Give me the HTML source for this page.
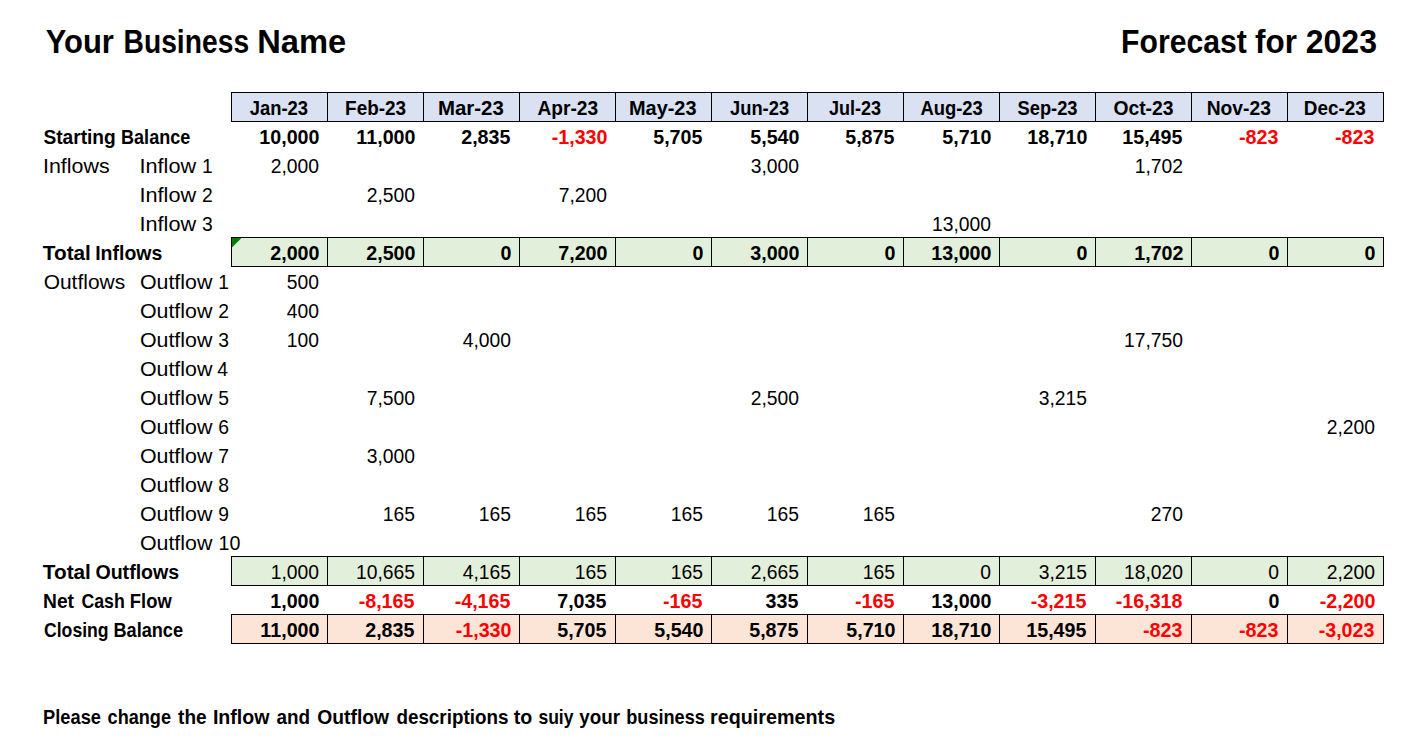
<!DOCTYPE html>
<html><head><meta charset="utf-8"><title>Cash Flow Forecast</title>
<style>
html,body{margin:0;padding:0;background:#fff;}
body{width:1409px;height:749px;overflow:hidden;}
svg{display:block;}
text{font-family:"Liberation Sans",sans-serif;}
</style></head><body>
<svg width="1409" height="749" viewBox="0 0 1409 749">
<g shape-rendering="crispEdges">
<rect x="231" y="92" width="1152" height="29" fill="#D9E1F2"/>
<rect x="231" y="92" width="1153" height="1" fill="#000"/>
<rect x="231" y="121" width="1153" height="1" fill="#000"/>
<rect x="231" y="92" width="1" height="30" fill="#000"/>
<rect x="327" y="92" width="1" height="30" fill="#000"/>
<rect x="423" y="92" width="1" height="30" fill="#000"/>
<rect x="519" y="92" width="1" height="30" fill="#000"/>
<rect x="615" y="92" width="1" height="30" fill="#000"/>
<rect x="711" y="92" width="1" height="30" fill="#000"/>
<rect x="807" y="92" width="1" height="30" fill="#000"/>
<rect x="903" y="92" width="1" height="30" fill="#000"/>
<rect x="999" y="92" width="1" height="30" fill="#000"/>
<rect x="1095" y="92" width="1" height="30" fill="#000"/>
<rect x="1191" y="92" width="1" height="30" fill="#000"/>
<rect x="1287" y="92" width="1" height="30" fill="#000"/>
<rect x="1383" y="92" width="1" height="30" fill="#000"/>
<rect x="231" y="237" width="1152" height="29" fill="#E2EFDA"/>
<rect x="231" y="237" width="1153" height="1" fill="#000"/>
<rect x="231" y="266" width="1153" height="1" fill="#000"/>
<rect x="231" y="237" width="1" height="30" fill="#000"/>
<rect x="327" y="237" width="1" height="30" fill="#000"/>
<rect x="423" y="237" width="1" height="30" fill="#000"/>
<rect x="519" y="237" width="1" height="30" fill="#000"/>
<rect x="615" y="237" width="1" height="30" fill="#000"/>
<rect x="711" y="237" width="1" height="30" fill="#000"/>
<rect x="807" y="237" width="1" height="30" fill="#000"/>
<rect x="903" y="237" width="1" height="30" fill="#000"/>
<rect x="999" y="237" width="1" height="30" fill="#000"/>
<rect x="1095" y="237" width="1" height="30" fill="#000"/>
<rect x="1191" y="237" width="1" height="30" fill="#000"/>
<rect x="1287" y="237" width="1" height="30" fill="#000"/>
<rect x="1383" y="237" width="1" height="30" fill="#000"/>
<rect x="231" y="556" width="1152" height="29" fill="#E2EFDA"/>
<rect x="231" y="556" width="1153" height="1" fill="#000"/>
<rect x="231" y="585" width="1153" height="1" fill="#000"/>
<rect x="231" y="556" width="1" height="30" fill="#000"/>
<rect x="327" y="556" width="1" height="30" fill="#000"/>
<rect x="423" y="556" width="1" height="30" fill="#000"/>
<rect x="519" y="556" width="1" height="30" fill="#000"/>
<rect x="615" y="556" width="1" height="30" fill="#000"/>
<rect x="711" y="556" width="1" height="30" fill="#000"/>
<rect x="807" y="556" width="1" height="30" fill="#000"/>
<rect x="903" y="556" width="1" height="30" fill="#000"/>
<rect x="999" y="556" width="1" height="30" fill="#000"/>
<rect x="1095" y="556" width="1" height="30" fill="#000"/>
<rect x="1191" y="556" width="1" height="30" fill="#000"/>
<rect x="1287" y="556" width="1" height="30" fill="#000"/>
<rect x="1383" y="556" width="1" height="30" fill="#000"/>
<rect x="231" y="614" width="1152" height="29" fill="#FCE4D6"/>
<rect x="231" y="614" width="1153" height="1" fill="#000"/>
<rect x="231" y="643" width="1153" height="1" fill="#000"/>
<rect x="231" y="614" width="1" height="30" fill="#000"/>
<rect x="327" y="614" width="1" height="30" fill="#000"/>
<rect x="423" y="614" width="1" height="30" fill="#000"/>
<rect x="519" y="614" width="1" height="30" fill="#000"/>
<rect x="615" y="614" width="1" height="30" fill="#000"/>
<rect x="711" y="614" width="1" height="30" fill="#000"/>
<rect x="807" y="614" width="1" height="30" fill="#000"/>
<rect x="903" y="614" width="1" height="30" fill="#000"/>
<rect x="999" y="614" width="1" height="30" fill="#000"/>
<rect x="1095" y="614" width="1" height="30" fill="#000"/>
<rect x="1191" y="614" width="1" height="30" fill="#000"/>
<rect x="1287" y="614" width="1" height="30" fill="#000"/>
<rect x="1383" y="614" width="1" height="30" fill="#000"/>
</g>
<path d="M232 238 L241.5 238 L232 247.5 Z" fill="#008000"/>
<g>
<text transform="translate(45.70 52.90) scale(0.9187 1)" font-size="33.7" font-weight="bold" fill="#000">Your</text>
<text transform="translate(123.52 52.90) scale(0.8385 1)" font-size="33.7" font-weight="bold" fill="#000">Business</text>
<text transform="translate(257.26 52.90) scale(0.9695 1)" font-size="33.7" font-weight="bold" fill="#000">Name</text>
<text transform="translate(1121.11 52.90) scale(0.8958 1)" font-size="33.7" font-weight="bold" fill="#000">Forecast</text>
<text transform="translate(1255.10 52.90) scale(0.9309 1)" font-size="33.7" font-weight="bold" fill="#000">for</text>
<text transform="translate(1305.75 52.90) scale(0.9507 1)" font-size="33.7" font-weight="bold" fill="#000">2023</text>
<text transform="translate(249.70 114.80) scale(0.9549 1)" font-size="19.3" font-weight="bold" fill="#000">Jan-23</text>
<text transform="translate(345.12 114.80) scale(0.9801 1)" font-size="19.3" font-weight="bold" fill="#000">Feb-23</text>
<text transform="translate(437.94 114.80) scale(1.0597 1)" font-size="19.3" font-weight="bold" fill="#000">Mar-23</text>
<text transform="translate(537.40 114.80) scale(0.9927 1)" font-size="19.3" font-weight="bold" fill="#000">Apr-23</text>
<text transform="translate(628.97 114.80) scale(1.0332 1)" font-size="19.3" font-weight="bold" fill="#000">May-23</text>
<text transform="translate(730.10 114.80) scale(0.9484 1)" font-size="19.3" font-weight="bold" fill="#000">Jun-23</text>
<text transform="translate(828.90 114.80) scale(0.9357 1)" font-size="19.3" font-weight="bold" fill="#000">Jul-23</text>
<text transform="translate(920.40 114.80) scale(0.9554 1)" font-size="19.3" font-weight="bold" fill="#000">Aug-23</text>
<text transform="translate(1017.50 114.80) scale(0.9495 1)" font-size="19.3" font-weight="bold" fill="#000">Sep-23</text>
<text transform="translate(1113.40 114.80) scale(1.0019 1)" font-size="19.3" font-weight="bold" fill="#000">Oct-23</text>
<text transform="translate(1206.70 114.80) scale(0.9989 1)" font-size="19.3" font-weight="bold" fill="#000">Nov-23</text>
<text transform="translate(1303.82 114.80) scale(0.9806 1)" font-size="19.3" font-weight="bold" fill="#000">Dec-23</text>
<text transform="translate(43.40 143.80) scale(0.9936 1)" font-size="19.3" font-weight="bold" fill="#000">Starting</text>
<text transform="translate(121.06 143.80) scale(0.9354 1)" font-size="19.3" font-weight="bold" fill="#000">Balance</text>
<text transform="translate(259.28 143.80) scale(1.0200 1)" font-size="19.3" font-weight="bold" fill="#000">10,000</text>
<text transform="translate(356.37 143.80) scale(1.0200 1)" font-size="19.3" font-weight="bold" fill="#000">11,000</text>
<text transform="translate(461.20 143.80) scale(1.0200 1)" font-size="19.3" font-weight="bold" fill="#000">2,835</text>
<text transform="translate(551.67 143.80) scale(1.0200 1)" font-size="19.3" font-weight="bold" fill="#FF0000">-1,330</text>
<text transform="translate(653.20 143.80) scale(1.0200 1)" font-size="19.3" font-weight="bold" fill="#000">5,705</text>
<text transform="translate(750.22 143.80) scale(1.0200 1)" font-size="19.3" font-weight="bold" fill="#000">5,540</text>
<text transform="translate(845.20 143.80) scale(1.0200 1)" font-size="19.3" font-weight="bold" fill="#000">5,875</text>
<text transform="translate(942.22 143.80) scale(1.0200 1)" font-size="19.3" font-weight="bold" fill="#000">5,710</text>
<text transform="translate(1027.28 143.80) scale(1.0200 1)" font-size="19.3" font-weight="bold" fill="#000">18,710</text>
<text transform="translate(1122.26 143.80) scale(1.0200 1)" font-size="19.3" font-weight="bold" fill="#000">15,495</text>
<text transform="translate(1239.06 143.80) scale(1.0200 1)" font-size="19.3" font-weight="bold" fill="#FF0000">-823</text>
<text transform="translate(1335.06 143.80) scale(1.0200 1)" font-size="19.3" font-weight="bold" fill="#FF0000">-823</text>
<text transform="translate(42.99 172.80) scale(1.1102 1)" font-size="19.3" font-weight="normal" fill="#000">Inflows</text>
<text transform="translate(139.48 172.80) scale(1.1245 1)" font-size="19.3" font-weight="normal" fill="#000">Inflow</text>
<text transform="translate(202.10 172.80) scale(1.0000 1)" font-size="19.3" font-weight="normal" fill="#000">1</text>
<text transform="translate(270.77 172.80) scale(1.0000 1)" font-size="19.3" font-weight="normal" fill="#000">2,000</text>
<text transform="translate(750.77 172.80) scale(1.0000 1)" font-size="19.3" font-weight="normal" fill="#000">3,000</text>
<text transform="translate(1134.77 172.80) scale(1.0000 1)" font-size="19.3" font-weight="normal" fill="#000">1,702</text>
<text transform="translate(139.48 201.80) scale(1.1245 1)" font-size="19.3" font-weight="normal" fill="#000">Inflow</text>
<text transform="translate(202.10 201.80) scale(1.0000 1)" font-size="19.3" font-weight="normal" fill="#000">2</text>
<text transform="translate(366.77 201.80) scale(1.0000 1)" font-size="19.3" font-weight="normal" fill="#000">2,500</text>
<text transform="translate(558.77 201.80) scale(1.0000 1)" font-size="19.3" font-weight="normal" fill="#000">7,200</text>
<text transform="translate(139.48 230.80) scale(1.1245 1)" font-size="19.3" font-weight="normal" fill="#000">Inflow</text>
<text transform="translate(202.10 230.80) scale(1.0000 1)" font-size="19.3" font-weight="normal" fill="#000">3</text>
<text transform="translate(932.05 230.80) scale(1.0000 1)" font-size="19.3" font-weight="normal" fill="#000">13,000</text>
<text transform="translate(42.80 259.80) scale(1.0770 1)" font-size="19.3" font-weight="bold" fill="#000">Total</text>
<text transform="translate(95.19 259.80) scale(1.0095 1)" font-size="19.3" font-weight="bold" fill="#000">Inflows</text>
<text transform="translate(270.22 259.80) scale(1.0200 1)" font-size="19.3" font-weight="bold" fill="#000">2,000</text>
<text transform="translate(366.22 259.80) scale(1.0200 1)" font-size="19.3" font-weight="bold" fill="#000">2,500</text>
<text transform="translate(500.50 259.80) scale(1.0200 1)" font-size="19.3" font-weight="bold" fill="#000">0</text>
<text transform="translate(558.22 259.80) scale(1.0200 1)" font-size="19.3" font-weight="bold" fill="#000">7,200</text>
<text transform="translate(692.50 259.80) scale(1.0200 1)" font-size="19.3" font-weight="bold" fill="#000">0</text>
<text transform="translate(750.22 259.80) scale(1.0200 1)" font-size="19.3" font-weight="bold" fill="#000">3,000</text>
<text transform="translate(884.50 259.80) scale(1.0200 1)" font-size="19.3" font-weight="bold" fill="#000">0</text>
<text transform="translate(931.28 259.80) scale(1.0200 1)" font-size="19.3" font-weight="bold" fill="#000">13,000</text>
<text transform="translate(1076.50 259.80) scale(1.0200 1)" font-size="19.3" font-weight="bold" fill="#000">0</text>
<text transform="translate(1134.22 259.80) scale(1.0200 1)" font-size="19.3" font-weight="bold" fill="#000">1,702</text>
<text transform="translate(1268.50 259.80) scale(1.0200 1)" font-size="19.3" font-weight="bold" fill="#000">0</text>
<text transform="translate(1364.50 259.80) scale(1.0200 1)" font-size="19.3" font-weight="bold" fill="#000">0</text>
<text transform="translate(43.70 288.80) scale(1.0852 1)" font-size="19.3" font-weight="normal" fill="#000">Outflows</text>
<text transform="translate(139.90 288.80) scale(1.1079 1)" font-size="19.3" font-weight="normal" fill="#000">Outflow</text>
<text transform="translate(218.20 288.80) scale(1.0000 1)" font-size="19.3" font-weight="normal" fill="#000">1</text>
<text transform="translate(286.85 288.80) scale(1.0000 1)" font-size="19.3" font-weight="normal" fill="#000">500</text>
<text transform="translate(139.90 317.80) scale(1.1079 1)" font-size="19.3" font-weight="normal" fill="#000">Outflow</text>
<text transform="translate(218.20 317.80) scale(1.0000 1)" font-size="19.3" font-weight="normal" fill="#000">2</text>
<text transform="translate(286.85 317.80) scale(1.0000 1)" font-size="19.3" font-weight="normal" fill="#000">400</text>
<text transform="translate(139.90 346.80) scale(1.1079 1)" font-size="19.3" font-weight="normal" fill="#000">Outflow</text>
<text transform="translate(218.20 346.80) scale(1.0000 1)" font-size="19.3" font-weight="normal" fill="#000">3</text>
<text transform="translate(286.85 346.80) scale(1.0000 1)" font-size="19.3" font-weight="normal" fill="#000">100</text>
<text transform="translate(462.77 346.80) scale(1.0000 1)" font-size="19.3" font-weight="normal" fill="#000">4,000</text>
<text transform="translate(1124.05 346.80) scale(1.0000 1)" font-size="19.3" font-weight="normal" fill="#000">17,750</text>
<text transform="translate(139.90 375.80) scale(1.1079 1)" font-size="19.3" font-weight="normal" fill="#000">Outflow</text>
<text transform="translate(217.20 375.80) scale(1.0000 1)" font-size="19.3" font-weight="normal" fill="#000">4</text>
<text transform="translate(139.90 404.80) scale(1.1079 1)" font-size="19.3" font-weight="normal" fill="#000">Outflow</text>
<text transform="translate(218.20 404.80) scale(1.0000 1)" font-size="19.3" font-weight="normal" fill="#000">5</text>
<text transform="translate(366.77 404.80) scale(1.0000 1)" font-size="19.3" font-weight="normal" fill="#000">7,500</text>
<text transform="translate(750.77 404.80) scale(1.0000 1)" font-size="19.3" font-weight="normal" fill="#000">2,500</text>
<text transform="translate(1038.77 404.80) scale(1.0000 1)" font-size="19.3" font-weight="normal" fill="#000">3,215</text>
<text transform="translate(139.90 433.80) scale(1.1079 1)" font-size="19.3" font-weight="normal" fill="#000">Outflow</text>
<text transform="translate(218.20 433.80) scale(1.0000 1)" font-size="19.3" font-weight="normal" fill="#000">6</text>
<text transform="translate(1326.77 433.80) scale(1.0000 1)" font-size="19.3" font-weight="normal" fill="#000">2,200</text>
<text transform="translate(139.90 462.80) scale(1.1079 1)" font-size="19.3" font-weight="normal" fill="#000">Outflow</text>
<text transform="translate(218.20 462.80) scale(1.0000 1)" font-size="19.3" font-weight="normal" fill="#000">7</text>
<text transform="translate(366.77 462.80) scale(1.0000 1)" font-size="19.3" font-weight="normal" fill="#000">3,000</text>
<text transform="translate(139.90 491.80) scale(1.1079 1)" font-size="19.3" font-weight="normal" fill="#000">Outflow</text>
<text transform="translate(218.20 491.80) scale(1.0000 1)" font-size="19.3" font-weight="normal" fill="#000">8</text>
<text transform="translate(139.90 520.80) scale(1.1079 1)" font-size="19.3" font-weight="normal" fill="#000">Outflow</text>
<text transform="translate(218.20 520.80) scale(1.0000 1)" font-size="19.3" font-weight="normal" fill="#000">9</text>
<text transform="translate(382.85 520.80) scale(1.0000 1)" font-size="19.3" font-weight="normal" fill="#000">165</text>
<text transform="translate(478.85 520.80) scale(1.0000 1)" font-size="19.3" font-weight="normal" fill="#000">165</text>
<text transform="translate(574.85 520.80) scale(1.0000 1)" font-size="19.3" font-weight="normal" fill="#000">165</text>
<text transform="translate(670.85 520.80) scale(1.0000 1)" font-size="19.3" font-weight="normal" fill="#000">165</text>
<text transform="translate(766.85 520.80) scale(1.0000 1)" font-size="19.3" font-weight="normal" fill="#000">165</text>
<text transform="translate(862.85 520.80) scale(1.0000 1)" font-size="19.3" font-weight="normal" fill="#000">165</text>
<text transform="translate(1150.85 520.80) scale(1.0000 1)" font-size="19.3" font-weight="normal" fill="#000">270</text>
<text transform="translate(139.90 549.80) scale(1.1079 1)" font-size="19.3" font-weight="normal" fill="#000">Outflow</text>
<text transform="translate(218.58 549.80) scale(1.0191 1)" font-size="19.3" font-weight="normal" fill="#000">10</text>
<text transform="translate(42.80 578.80) scale(1.0770 1)" font-size="19.3" font-weight="bold" fill="#000">Total</text>
<text transform="translate(95.40 578.80) scale(1.0165 1)" font-size="19.3" font-weight="bold" fill="#000">Outflows</text>
<text transform="translate(270.77 578.80) scale(1.0000 1)" font-size="19.3" font-weight="normal" fill="#000">1,000</text>
<text transform="translate(356.05 578.80) scale(1.0000 1)" font-size="19.3" font-weight="normal" fill="#000">10,665</text>
<text transform="translate(462.77 578.80) scale(1.0000 1)" font-size="19.3" font-weight="normal" fill="#000">4,165</text>
<text transform="translate(574.85 578.80) scale(1.0000 1)" font-size="19.3" font-weight="normal" fill="#000">165</text>
<text transform="translate(670.85 578.80) scale(1.0000 1)" font-size="19.3" font-weight="normal" fill="#000">165</text>
<text transform="translate(750.77 578.80) scale(1.0000 1)" font-size="19.3" font-weight="normal" fill="#000">2,665</text>
<text transform="translate(862.85 578.80) scale(1.0000 1)" font-size="19.3" font-weight="normal" fill="#000">165</text>
<text transform="translate(980.30 578.80) scale(1.0000 1)" font-size="19.3" font-weight="normal" fill="#000">0</text>
<text transform="translate(1038.77 578.80) scale(1.0000 1)" font-size="19.3" font-weight="normal" fill="#000">3,215</text>
<text transform="translate(1124.05 578.80) scale(1.0000 1)" font-size="19.3" font-weight="normal" fill="#000">18,020</text>
<text transform="translate(1268.30 578.80) scale(1.0000 1)" font-size="19.3" font-weight="normal" fill="#000">0</text>
<text transform="translate(1326.77 578.80) scale(1.0000 1)" font-size="19.3" font-weight="normal" fill="#000">2,200</text>
<text transform="translate(43.00 607.80) scale(0.9984 1)" font-size="19.3" font-weight="bold" fill="#000">Net</text>
<text transform="translate(81.40 607.80) scale(0.9187 1)" font-size="19.3" font-weight="bold" fill="#000">Cash</text>
<text transform="translate(129.85 607.80) scale(0.9519 1)" font-size="19.3" font-weight="bold" fill="#000">Flow</text>
<text transform="translate(270.22 607.80) scale(1.0200 1)" font-size="19.3" font-weight="bold" fill="#000">1,000</text>
<text transform="translate(358.65 607.80) scale(1.0200 1)" font-size="19.3" font-weight="bold" fill="#FF0000">-8,165</text>
<text transform="translate(454.65 607.80) scale(1.0200 1)" font-size="19.3" font-weight="bold" fill="#FF0000">-4,165</text>
<text transform="translate(557.20 607.80) scale(1.0200 1)" font-size="19.3" font-weight="bold" fill="#000">7,035</text>
<text transform="translate(663.06 607.80) scale(1.0200 1)" font-size="19.3" font-weight="bold" fill="#FF0000">-165</text>
<text transform="translate(765.60 607.80) scale(1.0200 1)" font-size="19.3" font-weight="bold" fill="#000">335</text>
<text transform="translate(855.06 607.80) scale(1.0200 1)" font-size="19.3" font-weight="bold" fill="#FF0000">-165</text>
<text transform="translate(931.28 607.80) scale(1.0200 1)" font-size="19.3" font-weight="bold" fill="#000">13,000</text>
<text transform="translate(1030.65 607.80) scale(1.0200 1)" font-size="19.3" font-weight="bold" fill="#FF0000">-3,215</text>
<text transform="translate(1115.72 607.80) scale(1.0200 1)" font-size="19.3" font-weight="bold" fill="#FF0000">-16,318</text>
<text transform="translate(1268.50 607.80) scale(1.0200 1)" font-size="19.3" font-weight="bold" fill="#000">0</text>
<text transform="translate(1319.67 607.80) scale(1.0200 1)" font-size="19.3" font-weight="bold" fill="#FF0000">-2,200</text>
<text transform="translate(44.00 636.80) scale(0.9139 1)" font-size="19.3" font-weight="bold" fill="#000">Closing</text>
<text transform="translate(113.46 636.80) scale(0.9409 1)" font-size="19.3" font-weight="bold" fill="#000">Balance</text>
<text transform="translate(260.37 636.80) scale(1.0200 1)" font-size="19.3" font-weight="bold" fill="#000">11,000</text>
<text transform="translate(365.20 636.80) scale(1.0200 1)" font-size="19.3" font-weight="bold" fill="#000">2,835</text>
<text transform="translate(455.67 636.80) scale(1.0200 1)" font-size="19.3" font-weight="bold" fill="#FF0000">-1,330</text>
<text transform="translate(557.20 636.80) scale(1.0200 1)" font-size="19.3" font-weight="bold" fill="#000">5,705</text>
<text transform="translate(654.22 636.80) scale(1.0200 1)" font-size="19.3" font-weight="bold" fill="#000">5,540</text>
<text transform="translate(749.20 636.80) scale(1.0200 1)" font-size="19.3" font-weight="bold" fill="#000">5,875</text>
<text transform="translate(846.22 636.80) scale(1.0200 1)" font-size="19.3" font-weight="bold" fill="#000">5,710</text>
<text transform="translate(931.28 636.80) scale(1.0200 1)" font-size="19.3" font-weight="bold" fill="#000">18,710</text>
<text transform="translate(1026.26 636.80) scale(1.0200 1)" font-size="19.3" font-weight="bold" fill="#000">15,495</text>
<text transform="translate(1143.06 636.80) scale(1.0200 1)" font-size="19.3" font-weight="bold" fill="#FF0000">-823</text>
<text transform="translate(1239.06 636.80) scale(1.0200 1)" font-size="19.3" font-weight="bold" fill="#FF0000">-823</text>
<text transform="translate(1318.65 636.80) scale(1.0200 1)" font-size="19.3" font-weight="bold" fill="#FF0000">-3,023</text>
<text transform="translate(43.05 723.80) scale(0.9472 1)" font-size="19.3" font-weight="bold" fill="#000">Please</text>
<text transform="translate(107.60 723.80) scale(0.9383 1)" font-size="19.3" font-weight="bold" fill="#000">change</text>
<text transform="translate(178.10 723.80) scale(0.9863 1)" font-size="19.3" font-weight="bold" fill="#000">the</text>
<text transform="translate(212.88 723.80) scale(1.0163 1)" font-size="19.3" font-weight="bold" fill="#000">Inflow</text>
<text transform="translate(276.50 723.80) scale(0.9791 1)" font-size="19.3" font-weight="bold" fill="#000">and</text>
<text transform="translate(317.30 723.80) scale(1.0007 1)" font-size="19.3" font-weight="bold" fill="#000">Outflow</text>
<text transform="translate(396.40 723.80) scale(0.9770 1)" font-size="19.3" font-weight="bold" fill="#000">descriptions</text>
<text transform="translate(513.70 723.80) scale(1.0206 1)" font-size="19.3" font-weight="bold" fill="#000">to</text>
<text transform="translate(538.40 723.80) scale(0.9084 1)" font-size="19.3" font-weight="bold" fill="#000">suiy</text>
<text transform="translate(579.20 723.80) scale(0.9792 1)" font-size="19.3" font-weight="bold" fill="#000">your</text>
<text transform="translate(626.26 723.80) scale(0.9394 1)" font-size="19.3" font-weight="bold" fill="#000">business</text>
<text transform="translate(710.08 723.80) scale(1.0230 1)" font-size="19.3" font-weight="bold" fill="#000">requirements</text>
</g>
</svg>
</body></html>
